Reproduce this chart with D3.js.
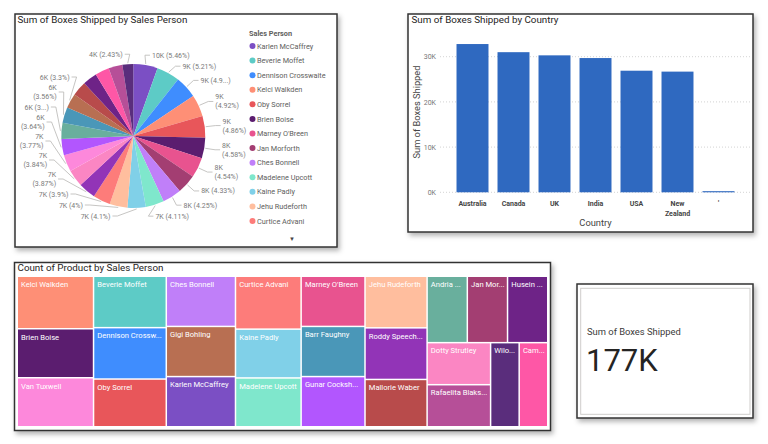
<!DOCTYPE html>
<html>
<head>
<meta charset="utf-8">
<script src="https://cdn.jsdelivr.net/npm/d3@7"></script>
<style>
	body { margin: 0; background: #fff; }
	svg { display: block; font-family: Roboto, sans-serif; }
</style>
</head>
<body>
<svg id="chart" width="768" height="444"></svg>
<script>
// Sales people in pie order (descending boxes shipped)
let salesPeople = ['Karlen McCaffrey', 'Beverie Moffet', 'Dennison Crosswaite', 'Kelci Walkden', 'Oby Sorrel',
	'Brien Boise', "Marney O'Breen", 'Jan Morforth', 'Ches Bonnell', 'Madelene Upcott', 'Kaine Padly',
	'Jehu Rudeforth', 'Curtice Advani', 'Roddy Speechley', 'Dotty Strutley', 'Van Tuxwell', 'Gunar Cockshoot',
	'Andria Kimpton', 'Barr Faughny', 'Gigi Bohling', 'Mallorie Waber', 'Husein Augar', 'Camilla Castle',
	'Rafaelita Blaksland', "Wilone O'Kielt"];
let boxesByPerson = [9664, 9222, 8762, 8708, 8602, 8107, 8036, 7664, 7523, 7275, 7257, 7080, 6903, 6850,
	6797, 6673, 6443, 6372, 6301, 5841, 5806, 5699, 5593, 5522, 4301];
let personColors = ['#7B4FC4', '#5DCBC6', '#3F8DFE', '#FE8F76', '#E8565A', '#5B1D6F', '#E8538F', '#A33E72',
	'#C07FF9', '#7FE7CC', '#80D0E8', '#FFBE9E', '#FD7C7A', '#9234B7', '#FB86C3', '#FD88DB', '#B256FE',
	'#69AF9D', '#4A97B8', '#B86F52', '#B84B4B', '#6E2387', '#FE57A6', '#B64F98', '#5A2D7C'];
// Data labels as shown (| = line break, null = hidden by Power BI)
let pieLabels = ['10K (5.46%)', '9K (5.21%)', '9K (4.9...)', '9K|(4.92%)', '9K|(4.86%)', '8K|(4.58%)',
	'8K|(4.54%)', '8K (4.33%)', '8K (4.25%)', '7K (4.11%)', '7K (4.1%)', '7K (4%)', '7K (3.9%)', '7K|(3.87%)',
	'7K|(3.84%)', '7K|(3.77%)', '6K|(3.64%)', '6K (3...)', '6K|(3.56%)', '6K (3.3%)', null, null, null, null,
	'4K (2.43%)'];

// Bar chart
let countries = ['Australia', 'Canada', 'UK', 'India', 'USA', 'New Zealand', "'"];
let boxesByCountry = [32800, 31000, 30300, 29700, 26900, 26700, 250];
let yTicks = [0, 10000, 20000, 30000];

// Treemap (count of product)
let treemapPeople = ['Kelci Walkden', 'Brien Boise', 'Van Tuxwell', 'Beverie Moffet', 'Dennison Crosswaite',
	'Oby Sorrel', 'Ches Bonnell', 'Gigi Bohling', 'Karlen McCaffrey', 'Curtice Advani', 'Kaine Padly',
	'Madelene Upcott', "Marney O'Breen", 'Barr Faughny', 'Gunar Cockshoot', 'Jehu Rudeforth', 'Roddy Speechley',
	'Mallorie Waber', 'Andria Kimpton', 'Jan Morforth', 'Husein Augar', 'Dotty Strutley', 'Rafaelita Blaksland',
	"Wilone O'Kielt", 'Camilla Castle'];
let productCounts = [15, 14, 14, 14, 14, 13, 13, 13, 13, 13, 12, 12, 12, 12, 12, 12, 12, 11, 10, 10, 10, 10, 10, 9, 9];

let svg = d3.select('#chart');
let color = d3.scaleOrdinal().domain(salesPeople).range(personColors);

// Drop shadow used by every visual container
let shadow = svg.append('defs').append('filter')
		.attr('id', 'shadow')
		.attr('x', '-5%').attr('y', '-5%')
		.attr('width', '115%').attr('height', '120%');
shadow.append('feDropShadow')
		.attr('dx', 2).attr('dy', 3)
		.attr('stdDeviation', 2.5)
		.attr('flood-color', '#000')
		.attr('flood-opacity', 0.3);

function panel(x, y, w, h) {
	svg.append('rect')
			.attr('x', x).attr('y', y)
			.attr('width', w).attr('height', h)
			.attr('fill', '#fff')
			.attr('stroke', '#333')
			.attr('stroke-width', 1.5)
			.attr('filter', 'url(#shadow)');
}

function title(x, y, text) {
	svg.append('text')
			.attr('x', x).attr('y', y)
			.attr('font-size', 9.8)
			.attr('fill', '#252423')
			.text(text);
}

// Shorten a text node with "..." until it fits
function fitText(sel, text, maxW) {
	sel.text(text);
	let s = text;
	while (s.length > 1 && sel.node().getComputedTextLength() > maxW) {
		s = s.slice(0, -1);
		sel.text(s + '...');
	}
}

panel(15, 14, 322, 233);
panel(408, 14, 345, 218);
panel(14.5, 262.5, 536, 168);
panel(577, 284, 176, 134);

/* ---------- Pie: Sum of Boxes Shipped by Sales Person ---------- */
title(17.5, 22.7, 'Sum of Boxes Shipped by Sales Person');

let cx = 133.3, cy = 136, r = 72;
let pieData = salesPeople.map((name, i) => ({name: name, boxes: boxesByPerson[i], label: pieLabels[i]}));
let arcs = d3.pie().sort(null).value(d => d.boxes)(pieData);

let pieG = svg.append('g').attr('transform', `translate(${cx}, ${cy})`);
pieG.selectAll('path')
		.data(arcs)
		.enter()
		.append('path')
		.attr('d', d3.arc().innerRadius(0).outerRadius(r))
		.attr('fill', d => color(d.data.name));

// Label layout: spread labels vertically on each side, then put them on an ellipse
let Rx = 86, Ry = 82;
let labels = arcs.filter(d => d.data.label).map(d => {
	let a = (d.startAngle + d.endAngle) / 2;
	let lines = d.data.label.split('|');
	return {a: a, lines: lines, h: lines.length * 8 + 3, right: a < Math.PI * 0.97, y: -Ry * Math.cos(a)};
});

let rightSide = labels.filter(l => l.right).sort((p, q) => p.y - q.y);
for(let i = 1; i < rightSide.length; i++) {
	rightSide[i].y = Math.max(rightSide[i].y, rightSide[i - 1].y + (rightSide[i - 1].h + rightSide[i].h) / 2);
}
let leftSide = labels.filter(l => !l.right).sort((p, q) => q.y - p.y);
leftSide[0].y = Math.min(leftSide[0].y, 80);
for(let i = 1; i < leftSide.length; i++) {
	leftSide[i].y = Math.min(leftSide[i].y, leftSide[i - 1].y - (leftSide[i - 1].h + leftSide[i].h) / 2);
}

labels.forEach(l => {
	let s = l.right ? 1 : -1;
	let off = Rx * Math.sqrt(Math.max(0, 1 - (l.y / Ry) * (l.y / Ry)));
	l.tx = s * (off + 4);
	let p0 = [Math.sin(l.a) * (r + 1), -Math.cos(l.a) * (r + 1)];
	let elbow = [s * (off - 3), l.y];
	pieG.append('path')
			.attr('d', d3.line()([p0, elbow, [s * (off + 2), l.y]]))
			.attr('fill', 'none')
			.attr('stroke', '#b8b6b4')
			.attr('stroke-width', 0.8);
	let t = pieG.append('text')
			.attr('font-size', 7)
			.attr('fill', '#7a7a7a')
			.attr('text-anchor', l.right ? 'start' : 'end');
	let y0 = l.y - (l.lines.length - 1) * 4.5;
	l.lines.forEach((line, i) => {
		t.append('tspan')
				.attr('x', l.tx)
				.attr('y', y0 + i * 9 + 2.5)
				.text(line);
	});
});

// Legend
svg.append('text')
		.attr('x', 249).attr('y', 35.5)
		.attr('font-size', 7.3)
		.attr('font-weight', 'bold')
		.attr('fill', '#605e5c')
		.text('Sales Person');
let legend = svg.append('g')
		.selectAll('g')
		.data(salesPeople.slice(0, 13))
		.enter()
		.append('g')
		.attr('transform', (d, i) => `translate(252.5, ${46 + i * 14.58})`);
legend.append('circle').attr('r', 3).attr('fill', d => color(d));
legend.append('text')
		.attr('x', 4.5).attr('y', 2.6)
		.attr('font-size', 7.3)
		.attr('fill', '#605e5c')
		.text(d => d);
svg.append('text')
		.attr('x', 292).attr('y', 241)
		.attr('font-size', 6)
		.attr('text-anchor', 'middle')
		.attr('fill', '#444')
		.text('▼');

/* ---------- Bar: Sum of Boxes Shipped by Country ---------- */
title(411.5, 23.3, 'Sum of Boxes Shipped by Country');

let xScale = d3.scaleBand()
		.domain(countries)
		.range([452, 739])
		.paddingInner(0.22)
		.paddingOuter(0.11);
let yScale = d3.scaleLinear()
		.domain([0, 35000])
		.range([192.3, 34.1]);

let yAxis = svg.append('g')
		.attr('transform', 'translate(438, 0)')
		.call(d3.axisLeft(yScale).tickValues(yTicks).tickSize(0).tickPadding(2)
				.tickFormat(d => d / 1000 + 'K'));
yAxis.select('.domain').remove();
yAxis.selectAll('text').attr('font-size', 7).attr('fill', '#777').attr('font-family', 'Roboto, sans-serif');

svg.append('g')
		.selectAll('line')
		.data(yTicks)
		.enter()
		.append('line')
		.attr('x1', 440).attr('x2', 752)
		.attr('y1', d => yScale(d)).attr('y2', d => yScale(d))
		.attr('stroke', '#c8c8c8')
		.attr('stroke-width', 0.8)
		.attr('stroke-dasharray', '1,2');

svg.append('g')
		.selectAll('rect')
		.data(countries)
		.enter()
		.append('rect')
		.attr('x', d => xScale(d))
		.attr('y', (d, i) => yScale(boxesByCountry[i]))
		.attr('width', xScale.bandwidth())
		.attr('height', (d, i) => yScale(0) - yScale(boxesByCountry[i]))
		.attr('fill', '#2F69C0');

let xAxis = svg.append('g')
		.attr('transform', 'translate(0, 192.3)')
		.call(d3.axisBottom(xScale).tickSize(0).tickPadding(9));
xAxis.select('.domain').remove();
xAxis.selectAll('text')
		.attr('font-size', 7)
		.attr('font-weight', 'bold')
		.attr('fill', '#444')
		.attr('font-family', 'Roboto, sans-serif')
		.each(function(d) {
			// wrap labels wider than a band step
			let t = d3.select(this);
			if(this.getComputedTextLength() > xScale.step() - 2 && d.indexOf(' ') > 0) {
				let words = d.split(' ');
				t.text(null);
				words.forEach((w, i) => t.append('tspan').attr('x', 0).attr('dy', i === 0 ? '0.71em' : '1.35em').text(w));
				t.attr('dy', null);
			}
		});

svg.append('text')
		.attr('x', 595.5).attr('y', 225.5)
		.attr('text-anchor', 'middle')
		.attr('font-size', 9.3)
		.attr('fill', '#444')
		.text('Country');
svg.append('text')
		.attr('transform', 'translate(420, 112) rotate(-90)')
		.attr('text-anchor', 'middle')
		.attr('font-size', 9.3)
		.attr('fill', '#444')
		.text('Sum of Boxes Shipped');

/* ---------- Treemap: Count of Product by Sales Person ---------- */
title(17.5, 271.3, 'Count of Product by Sales Person');

let root = d3.hierarchy({children: treemapPeople.map((n, i) => ({name: n, count: productCounts[i]}))})
		.sum(d => d.count || 0);
d3.treemap()
		.size([529, 149])
		.tile(d3.treemapSquarify)
		.paddingInner(1.5)(root);

let cells = svg.append('g')
		.attr('transform', 'translate(18, 277)')
		.selectAll('g')
		.data(root.leaves())
		.enter()
		.append('g')
		.attr('transform', d => `translate(${d.x0}, ${d.y0})`);
cells.append('rect')
		.attr('width', d => d.x1 - d.x0)
		.attr('height', d => d.y1 - d.y0)
		.attr('fill', d => color(d.data.name));
cells.append('text')
		.attr('x', 3).attr('y', 10)
		.attr('font-size', 7.6)
		.attr('fill', '#fff')
		.each(function(d) {
			fitText(d3.select(this), d.data.name, d.x1 - d.x0 - 4.8);
		});

/* ---------- Card ---------- */
svg.append('rect')
		.attr('x', 580.7).attr('y', 288.3)
		.attr('width', 169.3).attr('height', 126)
		.attr('fill', 'none')
		.attr('stroke', '#cfcdcb')
		.attr('stroke-width', 1);
svg.append('text')
		.attr('x', 587).attr('y', 334.5)
		.attr('font-size', 9.4)
		.attr('fill', '#3b3a39')
		.text('Sum of Boxes Shipped');
svg.append('text')
		.attr('x', 586).attr('y', 370.5)
		.attr('font-size', 31)
		.attr('fill', '#252423')
		.text(Math.round(d3.sum(boxesByPerson) / 1000) + 'K');
</script>
</body>
</html>
